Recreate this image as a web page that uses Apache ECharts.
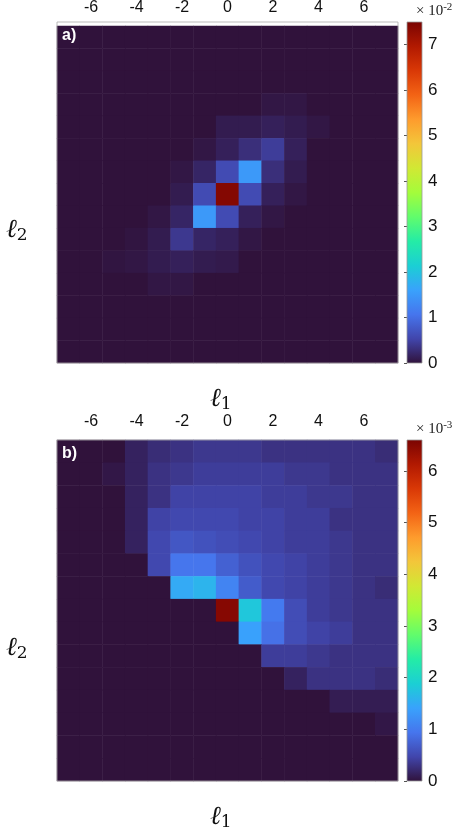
<!DOCTYPE html><html><head><meta charset="utf-8"><script src="https://cdn.jsdelivr.net/npm/echarts@6/dist/echarts.min.js"></script>
<style>html,body{margin:0;background:#fff}#c{width:474px;height:840px}</style></head><body><div id="c"></div><script>
const ells=[-7,-6,-5,-4,-3,-2,-1,0,1,2,3,4,5,6,7];
const tickVals=[-6,-4,-2,0,2,4,6];
// rows from l2=7 (top) to l2=-7 (bottom); columns l1=-7..7 ; panel a in units of 1e-2
const rowsA=[
[0,0,0,0,0,0,0,0,0,0,0,0,0,0,0],
[0,0,0,0,0,0,0,0,0,0,0,0,0,0,0],
[0,0,0,0,0,0,0,0,0,0,0,0,0,0,0],
[0,0,0,0,0,0,0,0,0,0.05,0.05,0,0,0,0],
[0,0,0,0,0,0,0,0.1,0.1,0.15,0.1,0.05,0,0,0],
[0,0,0,0,0,0,0.05,0.15,0.3,0.45,0.15,0,0,0,0],
[0,0,0,0,0,0.05,0.2,0.6,1.5,0.3,0.1,0,0,0,0],
[0,0,0,0,0,0.1,0.6,7.4,0.6,0.15,0.05,0,0,0,0],
[0,0,0,0,0.05,0.2,1.5,0.6,0.15,0.05,0,0,0,0,0],
[0,0,0,0.03,0.1,0.4,0.2,0.15,0.05,0,0,0,0,0,0],
[0,0,0.03,0.05,0.1,0.15,0.1,0.08,0,0,0,0,0,0,0],
[0,0,0,0,0.05,0.05,0,0,0,0,0,0,0,0,0],
[0,0,0,0,0,0,0,0,0,0,0,0,0,0,0],
[0,0,0,0,0,0,0,0,0,0,0,0,0,0,0],
[0,0,0,0,0,0,0,0,0,0,0,0,0,0,0]];
// panel b in units of 1e-3
const rowsB=[
[0,0,0,0.15,0.25,0.3,0.35,0.35,0.35,0.3,0.3,0.3,0.3,0.3,0.25],
[0,0,0.05,0.15,0.3,0.35,0.4,0.4,0.4,0.4,0.35,0.35,0.3,0.3,0.3],
[0,0,0,0.15,0.3,0.45,0.45,0.45,0.45,0.4,0.4,0.35,0.35,0.3,0.3],
[0,0,0,0.15,0.45,0.5,0.5,0.5,0.45,0.45,0.4,0.4,0.3,0.3,0.3],
[0,0,0,0.15,0.5,0.65,0.6,0.55,0.5,0.45,0.4,0.4,0.35,0.3,0.3],
[0,0,0,0,0.5,0.95,0.95,0.75,0.6,0.5,0.45,0.4,0.35,0.3,0.3],
[0,0,0,0,0,1.5,1.6,1.1,0.7,0.5,0.45,0.4,0.35,0.3,0.25],
[0,0,0,0,0,0,0,6.5,1.8,1.0,0.55,0.4,0.35,0.3,0.3],
[0,0,0,0,0,0,0,0,1.4,0.9,0.55,0.45,0.4,0.3,0.3],
[0,0,0,0,0,0,0,0,0,0.4,0.4,0.35,0.3,0.3,0.3],
[0,0,0,0,0,0,0,0,0,0,0.15,0.3,0.3,0.3,0.25],
[0,0,0,0,0,0,0,0,0,0,0,0,0.1,0.1,0.1],
[0,0,0,0,0,0,0,0,0,0,0,0,0,0,0.05],
[0,0,0,0,0,0,0,0,0,0,0,0,0,0,0],
[0,0,0,0,0,0,0,0,0,0,0,0,0,0,0]];
const barTicksA=[0,1,2,3,4,5,6,7];
const barTicksB=[0,1,2,3,4,5,6];
const maxA=7.5, maxB=6.6;
const turbo=['#30123b','#4145ab','#4675ed','#39a2fc','#1bcfd4','#24eca6','#61fc6c','#a4fc3b','#d1e834','#f3c63a','#fe9b2d','#f36315','#d93806','#b11901','#7a0402'];
function toData(rows){const d=[];rows.forEach((r,ri)=>r.forEach((v,ci)=>d.push([ci,14-ri,v])));return d;}
const ch=echarts.init(document.getElementById('c'));
const F='Liberation Sans';
const P=[{top:22,max:maxA,rows:rowsA,ticks:barTicksA,exp:'-2',lab:'a)'},{top:440,max:maxB,rows:rowsB,ticks:barTicksB,exp:'-3',lab:'b)'}];
const grid=[],xAxis=[],yAxis=[],series=[],visualMap=[],graphic=[];
const lab={fontFamily:F,fontSize:16,color:'#111'};
P.forEach((p,i)=>{
 grid.push({left:57,top:p.top,width:341,height:341,containLabel:false});
 grid.push({left:407,top:p.top,width:15,height:341});
 const g=2*i, gb=2*i+1;
 xAxis.push({gridIndex:g,type:'category',data:ells,show:false});
 yAxis.push({gridIndex:g,type:'category',data:ells,show:false});
 xAxis.push({gridIndex:g,type:'value',min:-7.5,max:7.5,axisLine:{show:false},splitLine:{show:false},
  axisTick:{inside:true,length:4,customValues:tickVals,lineStyle:{color:'#444'}},axisLabel:{customValues:tickVals,margin:10,...lab}});
 yAxis.push({gridIndex:g,type:'value',min:-7.5,max:7.5,axisLine:{show:false},splitLine:{show:false},
  axisTick:{inside:true,length:4,customValues:tickVals,lineStyle:{color:'#444'}},axisLabel:{customValues:tickVals,margin:10,...lab}});
 xAxis.push({gridIndex:gb,type:'value',min:0,max:1,show:false});
 yAxis.push({gridIndex:gb,type:'value',min:0,max:p.max,position:'right',axisLine:{show:false},splitLine:{show:false},
  axisTick:{inside:true,length:3,customValues:p.ticks,lineStyle:{color:'#555'}},axisLabel:{customValues:p.ticks,margin:6,...lab,fontSize:17}});
 series.push({type:'heatmap',xAxisIndex:3*i,yAxisIndex:3*i,data:toData(p.rows),itemStyle:{borderWidth:0},emphasis:{disabled:true}});
 visualMap.push({show:false,min:0,max:p.max,seriesIndex:i,inRange:{color:turbo}});
 graphic.push({type:'rect',shape:{x:407,y:p.top,width:15,height:341},z:10,silent:true,
  style:{stroke:'#999',lineWidth:0.8,fill:{type:'linear',x:0,y:1,x2:0,y2:0,colorStops:turbo.map((c,k)=>({offset:k/(turbo.length-1),color:c}))}}});
 graphic.push({type:'rect',shape:{x:57,y:p.top,width:341,height:341},z:10,silent:true,style:{fill:'none',stroke:'#aaa',lineWidth:0.8}});
 graphic.push({type:'text',x:62,y:p.top+6,z:11,style:{text:p.lab,fill:'#fff',font:'bold 16px '+F}});
 graphic.push({type:'text',x:416,y:p.top-20,z:11,style:{text:'× 10{s|'+p.exp+'}',rich:{s:{fontSize:11,verticalAlign:'top',fontFamily:'Liberation Serif',fill:'#222',padding:[0,0,8,0]}},fill:'#222',font:'15px Liberation Serif'}});
 graphic.push({type:'text',x:210,y:p.top+364,z:11,style:{text:'ℓ{s|1}',rich:{s:{fontSize:17,fontFamily:'DejaVu Serif',fill:'#111',padding:[10,0,0,0]}},fill:'#111',font:'italic 26px DejaVu Serif'}});
 graphic.push({type:'text',x:6,y:p.top+195,z:11,style:{text:'ℓ{s|2}',rich:{s:{fontSize:17,fontFamily:'DejaVu Serif',fill:'#111',padding:[10,0,0,0]}},fill:'#111',font:'italic 26px DejaVu Serif'}});
});
ch.setOption({animation:false,grid,xAxis,yAxis,series,visualMap,graphic});
</script></body></html>
